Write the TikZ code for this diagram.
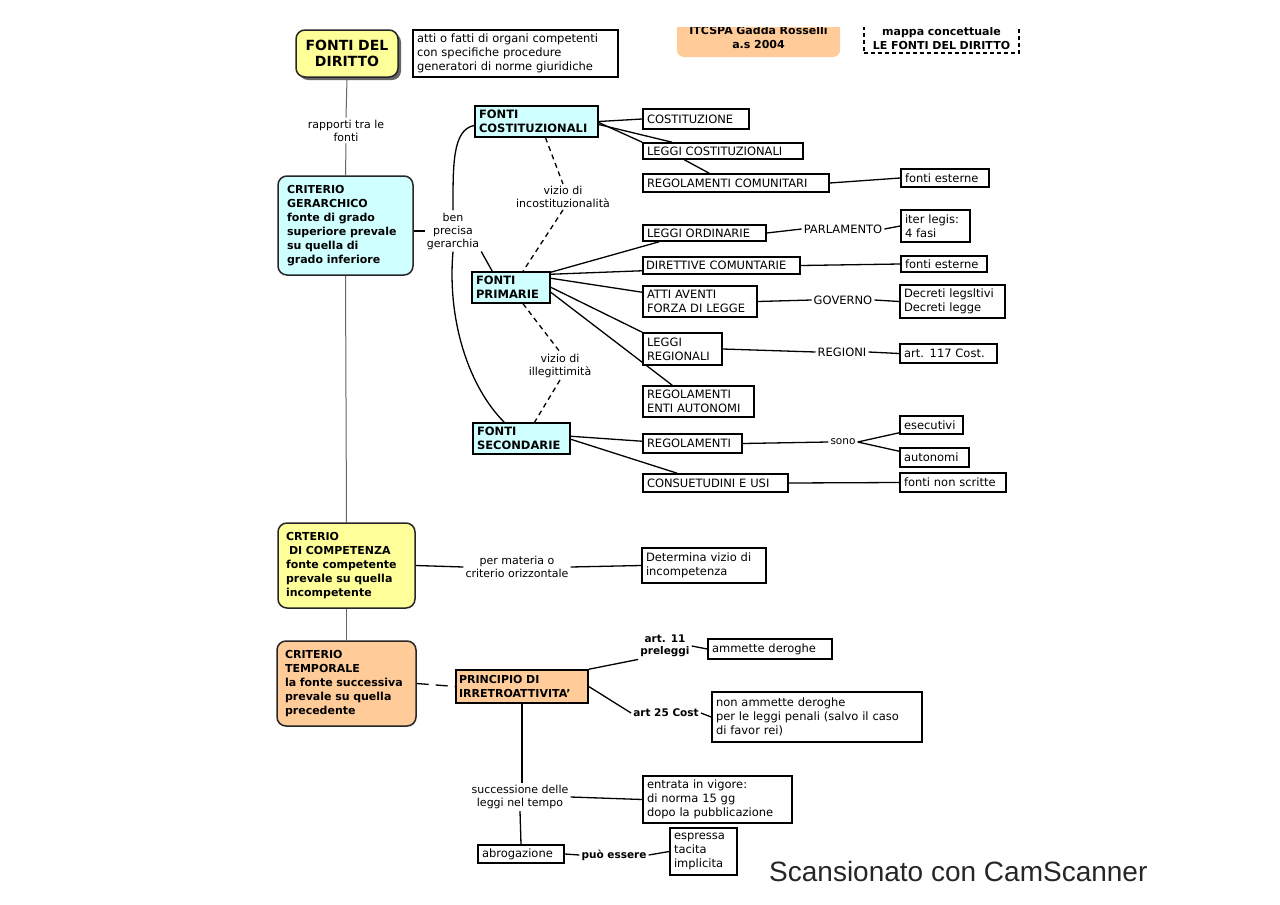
\documentclass[tikz,border=0pt]{standalone}
\usepackage{fontspec}
\setmainfont{DejaVu Sans}
\newfontfamily\camfont{Liberation Sans}
\usetikzlibrary{calc}
\definecolor{yel}{RGB}{255,255,153}
\definecolor{cya}{RGB}{208,255,255}
\definecolor{ora}{RGB}{255,204,153}
\pgfdeclarelayer{bg}
\pgfsetlayers{bg,main}
\newcommand\bx[8][4]{%
  \pgfmathsetmacro\BXw{#6-#4}\pgfmathsetmacro\BXh{#7-#5}%
  \pgfmathsetmacro\BXcx{(#4+#6)/2}\pgfmathsetmacro\BXcy{(#5+#7)/2}%
  \pgfmathsetmacro\BXtw{#6-#4-2*#1}%
  \node[#3, inner xsep=#1pt, minimum width=\BXw pt, minimum height=\BXh pt, text width=\BXtw pt] (#2) at (\BXcx,\BXcy) {#8};}
\begin{document}
\begin{tikzpicture}[x=1pt,y=-1pt,
  every node/.style={font=\fontsize{11.5}{14}\selectfont, inner ysep=0pt},
  wbox/.style={draw, line width=1.5pt, fill=white, align=left},
  cbox/.style={draw, line width=1.5pt, fill=cya, align=left, font=\bfseries\fontsize{11.5}{14}\selectfont},
  rnd/.style={draw=black!85, line width=1.5pt, rounded corners=9pt, align=left, font=\bfseries\fontsize{11}{14}\selectfont},
  lab/.style={align=center, inner sep=2pt, font=\fontsize{11}{13}\selectfont},
  clab/.style={align=center, inner sep=2pt, font=\fontsize{11.5}{13}\selectfont},
  blab/.style={align=center, inner sep=2pt, font=\bfseries\fontsize{10.5}{12.5}\selectfont},
  conn/.style={line width=1.3pt},
  trunk/.style={line width=1pt, black!60},
  dsh/.style={line width=1.3pt, dash pattern=on 5pt off 4pt}
]
\useasboundingbox (0,0) rectangle (1280,905);

% header
\fill[black!60, rounded corners=9pt] (299,33) rectangle (401,80);
\bx{fdd}{rnd, fill=yel, align=center, font=\bfseries\fontsize{14}{16}\selectfont}{296}{30}{398}{77}{FONTI DEL\\DIRITTO}
\bx{def}{wbox}{413}{30}{618}{77}{atti o fatti di organi competenti\\con specifiche procedure\\generatori di norme giuridiche}
\begin{scope}
\clip (0,27) rectangle (1280,905);
\bx{itc}{fill=ora, rounded corners=7pt, align=center, font=\bfseries\fontsize{11}{14}\selectfont}{677}{17}{840}{57}{ITCSPA Gadda Rosselli\\a.s 2004}
\bx[2]{mappa}{draw, line width=1.1pt, dash pattern=on 4pt off 3pt, align=center, font=\bfseries\fontsize{11}{14}\selectfont}{864}{23}{1019}{53}{mappa concettuale\\LE FONTI DEL DIRITTO}
\end{scope}

% criteria
\bx[9]{ger}{rnd, fill=cya}{278}{176}{413}{275}{CRITERIO\\GERARCHICO\\fonte di grado\\superiore prevale\\su quella di\\grado inferiore}
\bx[8]{comp}{rnd, fill=yel}{278}{523}{415}{608}{CRTERIO\\\hspace*{3pt}DI COMPETENZA\\fonte competente\\prevale su quella\\incompetente}
\bx[8]{temp}{rnd, fill=ora}{277}{641}{416}{726}{CRITERIO\\TEMPORALE\\la fonte successiva\\prevale su quella\\precedente}

% sources
\bx{fc}{cbox}{475}{106}{598}{137}{FONTI\\COSTITUZIONALI}
\bx{fp}{cbox}{472}{272}{550}{303}{FONTI\\PRIMARIE}
\bx{fs}{cbox}{473}{423}{570}{454}{FONTI\\SECONDARIE}

\bx{cost}{wbox}{643}{109}{749}{129}{COSTITUZIONE}
\bx{lcost}{wbox}{643}{143}{803}{159}{LEGGI COSTITUZIONALI}
\bx{rcom}{wbox}{643}{174}{829}{192}{REGOLAMENTI COMUNITARI}
\bx{fe1}{wbox}{901}{169}{989}{187}{fonti esterne}
\bx{lord}{wbox}{643}{225}{766}{241}{LEGGI ORDINARIE}
\bx{iter}{wbox}{901}{210}{970}{242}{iter legis:\\4 fasi}
\bx[3]{dir}{wbox}{643}{257}{800}{274}{DIRETTIVE COMUNTARIE}
\bx{fe2}{wbox}{901}{256}{987}{272}{fonti esterne}
\bx{atti}{wbox}{643}{286}{757}{317}{ATTI AVENTI\\FORZA DI LEGGE}
\bx{decr}{wbox}{900}{285}{1005}{318}{Decreti legsltivi\\Decreti legge}
\bx{lreg}{wbox}{643}{333}{722}{365}{LEGGI\\REGIONALI}
\bx{art}{wbox}{900}{344}{997}{363}{art. 117 Cost.}
\bx{renti}{wbox}{643}{386}{754}{417}{REGOLAMENTI\\ENTI AUTONOMI}
\bx{reg}{wbox}{643}{434}{742}{453}{REGOLAMENTI}
\bx{esec}{wbox}{900}{416}{963}{434}{esecutivi}
\bx{auton}{wbox}{900}{448}{969}{467}{autonomi}
\bx{cons}{wbox}{643}{474}{788}{492}{CONSUETUDINI E USI}
\bx{fns}{wbox}{900}{473}{1006}{492}{fonti non scritte}

\bx{det}{wbox}{642}{548}{766}{583}{Determina vizio di\\incompetenza}
\bx[3]{irr}{cbox, fill=ora, font=\bfseries\fontsize{11}{14}\selectfont}{456}{670}{588}{703}{PRINCIPIO DI\\IRRETROATTIVITA'}
\bx{amm}{wbox}{708}{639}{832}{659}{ammette deroghe}
\bx{nonamm}{wbox}{712}{692}{922}{742}{non ammette deroghe\\per le leggi penali (salvo il caso\\di favor rei)}
\bx{entr}{wbox}{643}{776}{792}{823}{entrata in vigore:\\di norma 15 gg\\dopo la pubblicazione}
\bx{abr}{wbox}{478}{845}{564}{863}{abrogazione}
\bx{espr}{wbox}{670}{828}{737}{875}{espressa\\tacita\\implicita}

% labels
\node[lab] (rap) at (346,130.5) {rapporti tra le\\fonti};
\node[lab] (ben) at (453,231) {ben\\precisa\\gerarchia};
\node[lab] (viz1) at (563,197) {vizio di\\incostituzionalità};
\node[lab] (viz2) at (560,366) {vizio di\\illegittimità};
\node[clab] (parl) at (843,229) {PARLAMENTO};
\node[clab] (gov) at (843,300) {GOVERNO};
\node[clab] (regi) at (842,352) {REGIONI};
\node[lab, font=\fontsize{10.5}{12}\selectfont] (sono) at (843,442) {sono};
\node[lab] (perm) at (517,567) {per materia o\\criterio orizzontale};
\node[blab] (art11) at (665,646) {art. 11\\preleggi};
\node[blab] (art25) at (666,713) {art 25 Cost};
\node[lab] (succ) at (520,797) {successione delle\\leggi nel tempo};
\node[blab] (puo) at (614,855) {può essere};
\node[anchor=base west, inner sep=0pt, text=black!85, font=\camfont\fontsize{28}{30}\selectfont] (cam) at (769,881) {Scansionato con CamScanner};

\begin{pgfonlayer}{bg}
\fill[white] (0,0) rectangle (1280,905);
\draw[trunk] (fdd.south) -- (rap.north);
\draw[trunk] (rap.south) -- (ger.north);
\draw[trunk] (ger.south) -- (comp.north);
\draw[trunk] (comp.south) -- (temp.north);
\draw[conn] (ger.east |- ben.west) -- (ben.west);
\draw[conn] (ben.south east) -- ($(fp.north west)+(21,0)$);
\draw[conn] ($(fc.west)+(0,4)$) .. controls +(-22,4) and +(0,-45) .. (ben.north);
\draw[conn] (ben.south) .. controls +(-6,70) and +(-35,-35) .. ($(fs.north west)+(32,0)$);
\draw[dsh] ($(fc.south)+(9,0)$) -- (viz1.north);
\draw[dsh] (viz1.south) -- ($(fp.north)+(12,0)$);
\draw[dsh] ($(fp.south)+(12,0)$) -- (viz2.north);
\draw[dsh] (viz2.south) -- ($(fs.north)+(13,0)$);
\draw[conn] (fc.east) -- (cost.west);
\draw[conn] ($(fc.east)+(0,1)$) -- (lcost.north west);
\draw[conn] ($(fc.east)+(0,3)$) -- ($(lcost.north west)+(30,0)$);
\draw[conn] ($(lcost.south west)+(42,0)$) -- ($(rcom.north west)+(67,0)$);
\draw[conn] ($(fp.north east)+(0,1)$) -- ($(lord.south west)+(17,0)$);
\draw[conn] ($(fp.north east)+(0,3)$) -- ($(dir.south west)+(0,-4)$);
\draw[conn] ($(fp.north east)+(0,7)$) -- ($(atti.north west)+(0,7)$);
\draw[conn] ($(fp.north east)+(0,16)$) -- (lreg.north west);
\draw[conn] ($(fp.north east)+(0,21)$) -- ($(renti.north west)+(30,0)$);
\draw[conn] ($(fs.north east)+(0,14)$) -- ($(reg.north west)+(0,8)$);
\draw[conn] ($(fs.north east)+(0,17)$) -- ($(cons.north west)+(35,0)$);
\draw[conn] (rcom.east) -- (fe1.west);
\draw[conn] (lord.east) -- (parl.west);
\draw[conn] (parl.east) -- (iter.west);
\draw[conn] (dir.east) -- (fe2.west);
\draw[conn] (atti.east) -- (gov.west);
\draw[conn] (gov.east) -- (decr.west);
\draw[conn] (lreg.east) -- (regi.west);
\draw[conn] (regi.east) -- (art.west);
\draw[conn] (reg.east) -- (sono.west);
\draw[conn] (sono.east) -- ($(esec.south west)+(0,-2)$);
\draw[conn] (sono.east) -- ($(auton.north west)+(0,4)$);
\draw[conn] (cons.east) -- (fns.west);
\draw[conn] (comp.east) -- (perm.west);
\draw[conn] (perm.east) -- (det.west);
\draw[conn, dash pattern=on 12pt off 7pt] (temp.east) -- (irr.west);
\draw[conn] (irr.north east) -- (art11.south west);
\draw[conn] (art11.east) -- (amm.west);
\draw[conn] (irr.east) -- (art25.west);
\draw[conn] (art25.east) -- (nonamm.west);
\draw[conn] (irr.south) -- (irr.south |- succ.north);
\draw[conn] (succ.east) -- (entr.west);
\draw[conn] (succ.south) -- (abr.north);
\draw[conn] (abr.east) -- (puo.west);
\draw[conn] (puo.east) -- (espr.west);
\end{pgfonlayer}
\end{tikzpicture}
\end{document}
